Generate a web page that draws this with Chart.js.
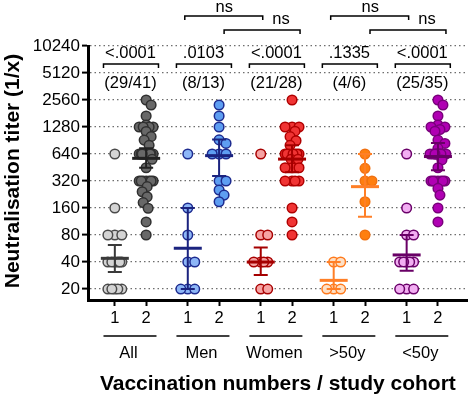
<!DOCTYPE html>
<html>
<head>
<meta charset="utf-8">
<script src="https://cdn.jsdelivr.net/npm/chart.js@4.4.0/dist/chart.umd.min.js"></script>
<style>
  body { margin: 0; background: #fff; }
  canvas { display: block; }
</style>
</head>
<body>
<canvas id="titerChart" width="474" height="397"></canvas>
<script>
// categories
var groups = ['All', 'Men', 'Women', '>50y', '<50y'];
var doses = ['1', '2'];
var yTicks = [20, 40, 80, 160, 320, 640, 1280, 2560, 5120, 10240];

// titers per cohort and vaccination number
var allDose1 = [640, 160, 80, 80, 80, 40, 40, 40, 40, 40, 40, 20, 20, 20, 20, 20];
var allDose2 = [2560, 2250, 1700, 1350, 1280, 1280, 1280, 1280, 1140, 1000, 915, 800,
  640, 640, 640, 640, 640, 640, 640, 640, 640, 640, 640, 640, 640, 560, 450,
  320, 320, 320, 320, 320, 320, 320, 277, 243, 214, 184, 159, 112, 80];
var menDose1 = [640, 160, 80, 40, 40, 20, 20, 20];
var menDose2 = [2250, 1700, 1280, 920, 840, 640, 640, 640, 320, 320, 254, 223, 188];
var womenDose1 = [640, 80, 80, 40, 40, 40, 40, 20, 20];
var womenDose2 = [2560, 1280, 1280, 1280, 1150, 1000, 900, 800,
  640, 640, 640, 640, 640, 640, 640, 640, 560, 560, 450, 450, 450,
  320, 320, 320, 320, 160, 112, 80];
var over50Dose1 = [40, 40, 20, 20, 20];
var over50Dose2 = [640, 443, 320, 320, 188, 80];
var under50Dose1 = [640, 160, 80, 80, 40, 40, 40, 40, 40, 20, 20, 20];
var under50Dose2 = [2560, 2250, 1700, 1350, 1280, 1280, 1200, 1150, 915, 840, 740,
  640, 640, 640, 640, 640, 640, 640, 640, 640, 640, 640, 550, 450,
  320, 320, 320, 320, 320, 320, 320, 265, 223, 160, 112];

// centre line and error bar ends
var barMid  = [44, 573, 57, 614, 40, 562, 25, 277, 48, 600];
var barLow  = [31, 450, 20, 365, 28.6, 400, 20, 128, 32, 423];
var barHigh = [62, 740, 160, 930, 58, 800, 40, 640, 80, 850];

var pValues = ['<.0001', '.0103', '<.0001', '.1335', '<.0001'];
var fractions = ['(29/41)', '(8/13)', '(21/28)', '(4/6)', '(25/35)'];
// ns comparisons between series indexes
var nsPairs = [[2, 4, 0], [3, 5, 1], [6, 8, 0], [7, 9, 1]];

var series = [allDose1, allDose2, menDose1, menDose2, womenDose1, womenDose2,
  over50Dose1, over50Dose2, under50Dose1, under50Dose2];

var fills   = ['#d4d4d4', '#686868', '#8db6f7', '#5e9ef2', '#f6a3a3', '#f03434', '#fde0c6', '#ff7f10', '#f2aef2', '#b000b3'];
var borders = ['#4a4a4a', '#303030', '#1d2b8f', '#1d2b8f', '#a80000', '#b00000', '#ff7a1c', '#f07010', '#6a0069', '#78007a'];
var barColors = ['#3a3a3a', '#222222', '#1b237f', '#1b237f', '#a50000', '#a50000', '#ff7f27', '#ff7f27', '#690066', '#690066'];

var groupStep = 2.33;
var PX_X = 31.5, PX_DOUBLING = 27, MIN_DIST = 7, MAX_SPREAD = 8;
var FONT = '"Liberation Sans", Arial, sans-serif';

function xPos(i) {
  return Math.floor(i / 2) * groupStep + (i % 2);
}

// simple beeswarm so equal titers sit side by side
function swarm(values, cx) {
  var placed = [];
  var sorted = values.slice().sort(function (a, b) { return b - a; });
  return sorted.map(function (v) {
    var py = Math.log2(v) * PX_DOUBLING;
    var best = 0, bestScore = -1, done = false;
    for (var k = 0; k <= MAX_SPREAD && !done; k++) {
      var cands = k ? [k, -k] : [0];
      for (var c = 0; c < cands.length; c++) {
        var s = cands[c];
        var minD = Infinity;
        placed.forEach(function (p) {
          var d = Math.hypot(p.x - s, p.y - py);
          if (d < minD) minD = d;
        });
        if (minD >= MIN_DIST) { best = s; done = true; break; }
        if (minD > bestScore + 0.01) { bestScore = minD; best = s; }
      }
    }
    placed.push({ x: best, y: py });
    return { x: cx + best / PX_X, y: v };
  });
}

var datasets = series.map(function (vals, i) {
  return {
    label: groups[Math.floor(i / 2)] + ' ' + doses[i % 2],
    data: swarm(vals, xPos(i)),
    backgroundColor: fills[i],
    borderColor: borders[i],
    borderWidth: 1.5,
    pointRadius: 4.8,
    pointHoverRadius: 4.8
  };
});

function bracket(ctx, x1, x2, y, drop) {
  ctx.beginPath();
  ctx.moveTo(x1, y + drop);
  ctx.lineTo(x1, y);
  ctx.lineTo(x2, y);
  ctx.lineTo(x2, y + drop);
  ctx.stroke();
}

var errorBars = {
  id: 'errorBars',
  afterDatasetsDraw: function (chart) {
    var ctx = chart.ctx, xs = chart.scales.x, ys = chart.scales.y;
    ctx.save();
    series.forEach(function (vals, i) {
      var x = xs.getPixelForValue(xPos(i));
      var yl = ys.getPixelForValue(barLow[i]);
      var yh = ys.getPixelForValue(barHigh[i]);
      var ym = ys.getPixelForValue(barMid[i]);
      ctx.strokeStyle = barColors[i];
      ctx.lineWidth = 2;
      ctx.beginPath();
      ctx.moveTo(x, yl); ctx.lineTo(x, yh);
      ctx.moveTo(x - 7, yl); ctx.lineTo(x + 7, yl);
      ctx.moveTo(x - 7, yh); ctx.lineTo(x + 7, yh);
      ctx.stroke();
      ctx.lineWidth = 3;
      ctx.beginPath();
      ctx.moveTo(x - 14, ym); ctx.lineTo(x + 14, ym);
      ctx.stroke();
    });
    ctx.restore();
  }
};

var annotations = {
  id: 'annotations',
  afterDraw: function (chart) {
    var ctx = chart.ctx, xs = chart.scales.x, area = chart.chartArea;
    ctx.save();
    ctx.fillStyle = '#000';
    ctx.strokeStyle = '#000';
    ctx.lineWidth = 1.5;
    ctx.textAlign = 'center';
    ctx.textBaseline = 'middle';
    ctx.font = '16.5px ' + FONT;

    groups.forEach(function (g, gi) {
      var cx = (xs.getPixelForValue(xPos(gi * 2)) + xs.getPixelForValue(xPos(gi * 2 + 1))) / 2;
      ctx.fillText(pValues[gi], cx, 53);
      bracket(ctx, cx - 27, cx + 28, 64, 4);
      ctx.fillText(fractions[gi], cx, 83);
      // cohort underline and name
      ctx.beginPath();
      ctx.moveTo(cx - 27, 336); ctx.lineTo(cx + 26, 336);
      ctx.stroke();
      ctx.fillText(g, cx - 2, 353);
    });

    nsPairs.forEach(function (p) {
      var a = xs.getPixelForValue(xPos(p[0]));
      var b = xs.getPixelForValue(xPos(p[1]));
      if (p[2] === 0) {
        bracket(ctx, a - 3, b + 2, 16, 4);
        ctx.fillText('ns', (a + b) / 2, 7);
      } else {
        bracket(ctx, a + 5, b + 8, 30, 4);
        ctx.fillText('ns', b - 11, 19);
      }
    });

    ctx.font = 'bold 21px ' + FONT;
    ctx.fillText('Vaccination numbers / study cohort', (area.left + area.right) / 2, 384);
    ctx.translate(13, (area.top + area.bottom) / 2 - 2);
    ctx.rotate(-Math.PI / 2);
    ctx.fillText('Neutralisation titer (1/x)', 0, 0);
    ctx.restore();
  }
};

new Chart(document.getElementById('titerChart'), {
  type: 'scatter',
  data: { datasets: datasets },
  options: {
    responsive: false,
    animation: false,
    devicePixelRatio: 1,
    layout: { padding: { left: 0, top: 46, right: 4, bottom: 0 } },
    plugins: {
      legend: { display: false },
      tooltip: { enabled: false }
    },
    scales: {
      x: {
        type: 'linear',
        bounds: 'data',
        min: -0.857,
        max: 11.27,
        afterBuildTicks: function (scale) {
          scale.ticks = series.map(function (s, i) { return { value: xPos(i) }; });
        },
        afterFit: function (scale) { scale.height = 97; },
        ticks: {
          autoSkip: false,
          maxRotation: 0,
          padding: 3,
          color: '#000',
          font: { family: FONT, size: 16.5 },
          callback: function (value, index) { return doses[index % 2]; }
        },
        grid: { drawOnChartArea: false, drawTicks: true, tickLength: 6, tickColor: '#000', tickWidth: 2 },
        border: { display: true, color: '#000', width: 3 }
      },
      y: {
        type: 'logarithmic',
        bounds: 'data',
        min: 15.1,
        max: 10240,
        afterBuildTicks: function (scale) {
          scale.ticks = yTicks.map(function (v) { return { value: v }; });
        },
        afterFit: function (scale) { scale.width = 88; },
        ticks: {
          padding: 2,
          color: '#000',
          font: { family: FONT, size: 17 },
          callback: function (value) { return String(value); }
        },
        grid: { color: '#6e6e6e', lineWidth: 1.2, drawTicks: true, tickLength: 6, tickColor: '#000', tickWidth: 2 },
        border: { display: true, color: '#000', width: 3, dash: [1.5, 3] }
      }
    }
  },
  plugins: [errorBars, annotations]
});
</script>
</body>
</html>
